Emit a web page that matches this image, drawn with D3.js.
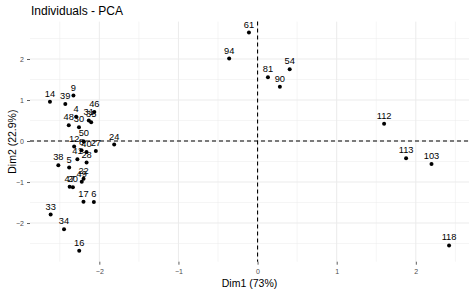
<!DOCTYPE html>
<html>
<head>
<meta charset="utf-8">
<script src="https://cdn.jsdelivr.net/npm/d3@7"></script>
<style>
  html, body { margin: 0; padding: 0; background: #fff; }
  svg { display: block; font-family: "Liberation Sans", Arial, Helvetica, sans-serif; }
</style>
</head>
<body>
<svg id="chart" width="474" height="293"></svg>
<script>
// ---- data ----
const labels = ["4","5","6","8","9","12","14","16","17","20","22","24","27","28","30","31","33","34","35","38","39","40","41","46","47","48","49","50",
                "54","61","81","90","94","103","112","113","118"];
const dim1 = [-2.292,-2.381,-2.069,-2.225,-2.327,-2.318,-2.624,-2.254,-2.200,-2.334,-2.199,-1.812,-2.044,-2.161,-2.257,-2.133,-2.615,-2.446,-2.103,-2.518,-2.430,-2.162,-2.277,-2.063,-2.375,-2.386,-2.222,-2.196,
              0.406,-0.109,0.131,0.282,-0.359,2.198,1.599,1.877,2.420];
const dim2 = [0.594,-0.646,-1.485,-0.223,1.109,-0.134,0.958,-2.677,-1.479,-1.125,-0.922,-0.087,-0.243,-0.526,0.334,0.501,-1.793,-2.150,0.457,-0.592,0.904,-0.269,-0.442,0.707,-1.118,0.383,-0.995,-0.011,
              1.749,2.646,1.557,1.325,2.012,-0.559,0.420,-0.418,-2.547];
const xTicks = [-2, -1, 0, 1, 2];
const yTicks = [-2, -1, 0, 1, 2];
const xMinor = [-2.5, -1.5, -0.5, 0.5, 1.5, 2.5];
const yMinor = [-2.5, -1.5, -0.5, 0.5, 1.5, 2.5];
const title = "Individuals - PCA";
const xTitle = "Dim1 (73%)";
const yTitle = "Dim2 (22.9%)";

const points = labels.map((l, i) => ({ label: l, x: dim1[i], y: dim2[i] }));

// ---- layout ----
const svg = d3.select("#chart");
const panel = { left: 30, right: 469, top: 21.6, bottom: 261.7 };

const x = d3.scaleLinear().domain([-2.876, 2.672]).range([panel.left, panel.right]);
const y = d3.scaleLinear().domain([-2.943, 2.912]).range([panel.bottom, panel.top]);

// grid
const grid = svg.append("g");
grid.selectAll("line.xminor").data(xMinor).join("line")
  .attr("x1", d => x(d)).attr("x2", d => x(d))
  .attr("y1", panel.top).attr("y2", panel.bottom)
  .attr("stroke", "#EBEBEB").attr("stroke-width", 0.5);
grid.selectAll("line.yminor").data(yMinor).join("line")
  .attr("y1", d => y(d)).attr("y2", d => y(d))
  .attr("x1", panel.left).attr("x2", panel.right)
  .attr("stroke", "#EBEBEB").attr("stroke-width", 0.5);
grid.selectAll("line.xmajor").data(xTicks).join("line")
  .attr("x1", d => x(d)).attr("x2", d => x(d))
  .attr("y1", panel.top).attr("y2", panel.bottom)
  .attr("stroke", "#EBEBEB").attr("stroke-width", 1);
grid.selectAll("line.ymajor").data(yTicks).join("line")
  .attr("y1", d => y(d)).attr("y2", d => y(d))
  .attr("x1", panel.left).attr("x2", panel.right)
  .attr("stroke", "#EBEBEB").attr("stroke-width", 1);

// reference dashed lines
svg.append("line")
  .attr("x1", x(0)).attr("x2", x(0)).attr("y1", panel.top).attr("y2", panel.bottom)
  .attr("stroke", "#000").attr("stroke-width", 1.1).attr("stroke-dasharray", "4,3");
svg.append("line")
  .attr("y1", y(0)).attr("y2", y(0)).attr("x1", panel.left).attr("x2", panel.right)
  .attr("stroke", "#000").attr("stroke-width", 1.1).attr("stroke-dasharray", "4,3");

// axes
const xAxis = svg.append("g")
  .attr("transform", `translate(0,${panel.bottom})`)
  .call(d3.axisBottom(x).tickValues(xTicks).tickSize(3).tickPadding(4).tickFormat(d3.format("d")));
const yAxis = svg.append("g")
  .attr("transform", `translate(${panel.left},0)`)
  .call(d3.axisLeft(y).tickValues(yTicks).tickSize(3).tickPadding(3).tickFormat(d3.format("d")));
[xAxis, yAxis].forEach(a => {
  a.select(".domain").remove();
  a.selectAll(".tick line").attr("stroke", "#333333").attr("stroke-width", 0.8);
  a.selectAll(".tick text").attr("fill", "#4D4D4D").attr("font-size", 7)
    .attr("font-family", '"Liberation Sans", Arial, sans-serif');
});

// points
svg.append("g").selectAll("circle").data(points).join("circle")
  .attr("cx", d => x(d.x)).attr("cy", d => y(d.y)).attr("r", 2).attr("fill", "#000");

// labels
svg.append("g").selectAll("text").data(points).join("text")
  .attr("x", d => x(d.x)).attr("y", d => y(d.y) - 5)
  .attr("text-anchor", "middle").attr("font-size", 9.3).attr("fill", "#000")
  .text(d => d.label);

// titles
svg.append("text").attr("x", 31).attr("y", 14.5).attr("font-size", 12).attr("fill", "#000").text(title);
svg.append("text").attr("x", (panel.left + panel.right) / 2).attr("y", 286.5)
  .attr("text-anchor", "middle").attr("font-size", 10.5).attr("fill", "#000").text(xTitle);
svg.append("text").attr("transform", `translate(15.5,${(panel.top + panel.bottom) / 2}) rotate(-90)`)
  .attr("text-anchor", "middle").attr("font-size", 10.5).attr("fill", "#000").text(yTitle);
</script>
</body>
</html>
